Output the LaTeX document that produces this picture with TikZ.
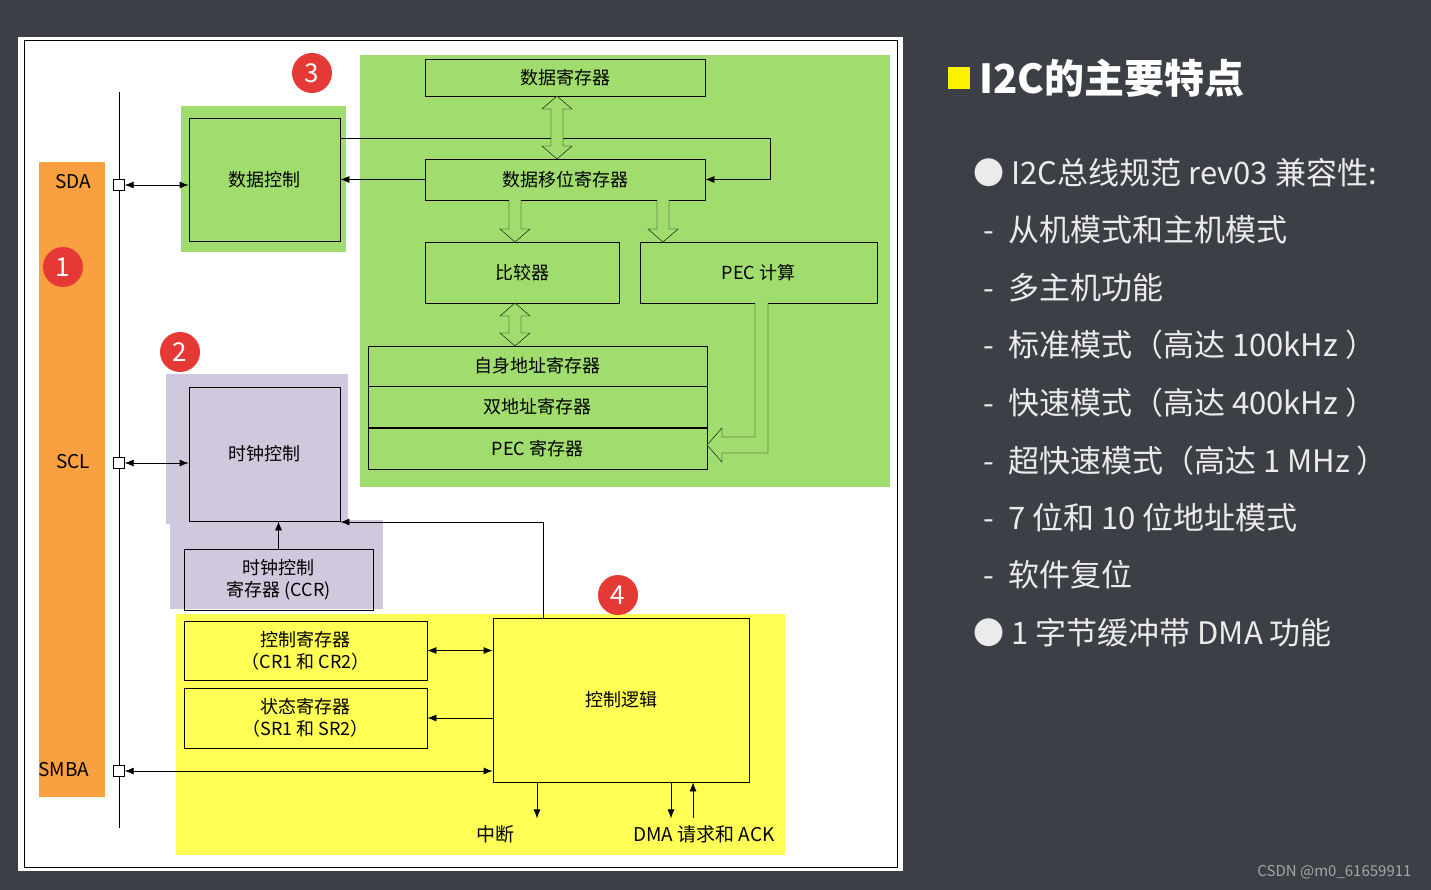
\documentclass[tikz,border=0pt]{standalone}
\usepackage{fontspec}
\setmainfont{Noto Sans CJK SC}
\usetikzlibrary{arrows.meta,positioning,calc}
\definecolor{slide}{RGB}{60,63,69}
\definecolor{busorange}{RGB}{249,160,64}
\definecolor{blockgreen}{RGB}{160,220,110}
\definecolor{blockpurple}{RGB}{208,200,220}
\definecolor{blockyellow}{RGB}{255,255,85}
\definecolor{badgered}{RGB}{229,57,53}
\definecolor{listgray}{RGB}{235,235,235}

% hollow arrows (x, y top, y bottom)
\newcommand{\hollowdown}[3]{\draw[fill=blockgreen] (#1-6,#2)--(#1-6,#3-13)--(#1-15,#3-13)--(#1,#3)--(#1+15,#3-13)--(#1+6,#3-13)--(#1+6,#2);}
\newcommand{\hollowboth}[3]{\draw[fill=blockgreen] (#1,#2)--(#1+15,#2+13)--(#1+6,#2+13)--(#1+6,#3-13)--(#1+15,#3-13)--(#1,#3)--(#1-15,#3-13)--(#1-6,#3-13)--(#1-6,#2+13)--(#1-15,#2+13)--cycle;}

\begin{document}
\begin{tikzpicture}[x=1pt, y=-1pt,
    box/.style={draw, thick, inner sep=0pt, align=center, font=\fontsize{18}{22}\selectfont},
    pin/.style={draw, fill=white, minimum size=11pt, inner sep=0pt},
    badge/.style={circle, fill=badgered, text=white, minimum size=40pt, inner sep=0pt, font=\fontsize{26}{26}\selectfont},
    sig/.style={font=\fontsize{19}{22}\selectfont},
    arrow/.style={-{Latex[length=9pt,width=7pt]}, thick},
    both/.style={{Latex[length=9pt,width=7pt]}-{Latex[length=9pt,width=7pt]}, thick},
    item/.style={anchor=west, text=listgray, font=\fontsize{31}{34}\selectfont}
]
\useasboundingbox (0,0) rectangle (1431,890);
\fill[slide] (0,0) rectangle (1431,890);
\fill[white] (18,37) rectangle (903,871);
\draw (24,40) rectangle (897,867);

% coloured areas
\fill[busorange] (39,162) rectangle (105,797);
\fill[blockgreen] (181,106) rectangle (346,252);
\fill[blockgreen] (360,55) rectangle (890,487);
\fill[blockpurple] (166,374) rectangle (348,524);
\fill[blockpurple] (170,520) rectangle (383,609);
\fill[blockyellow] (176,614) rectangle (785,855);

% bus
\draw[thick] (119,92) -- (119,828);
\node[sig] at (73,182) {SDA};
\node[sig] at (73,462) {SCL};
\node[sig] at (64,770) {SMBA};
\node[pin] (sda) at (119,185) {};
\node[pin] (scl) at (119,463) {};
\node[pin] (smba) at (119,771) {};

% blocks
\node[box, minimum width=151pt, minimum height=123pt] (datactl) at (264.5,179.5) {数据控制};
\node[box, minimum width=280pt, minimum height=37pt] (datareg) at (565,77.5) {数据寄存器};
\node[box, minimum width=280pt, minimum height=41pt] (shiftreg) at (565,179.5) {数据移位寄存器};
\node[box, minimum width=194pt, minimum height=61pt] (comp) at (522,272.5) {比较器};
\node[box, minimum width=237pt, minimum height=61pt] (pecalc) at (758.5,272.5) {PEC 计算};
\node[box, minimum width=339pt, minimum height=40pt] (ownaddr) at (537.5,366) {自身地址寄存器};
\node[box, minimum width=339pt, minimum height=41pt] (dualaddr) at (537.5,406.5) {双地址寄存器};
\node[box, minimum width=339pt, minimum height=41pt] (pecreg) at (537.5,448.5) {PEC 寄存器};
\node[box, minimum width=151pt, minimum height=134pt] (clkctl) at (264.5,454) {时钟控制};
\node[box, minimum width=189pt, minimum height=61pt] (ccr) at (278.5,579.5) {时钟控制\\寄存器 (CCR)};
\node[box, minimum width=243pt, minimum height=59pt] (cr) at (305.5,650.5) {控制寄存器\\（CR1 和 CR2）};
\node[box, minimum width=243pt, minimum height=60pt] (sr) at (305.5,718) {状态寄存器\\（SR1 和 SR2）};
\node[box, minimum width=256pt, minimum height=164pt] (logic) at (621,700) {控制逻辑};
\node[sig] (irq) at (495,834) {中断};
\node[sig] (dma) at (704,834) {DMA 请求和 ACK};

% badges
\node[badge] (b1) at (63,267) {1};
\node[badge] (b2) at (180,352) {2};
\node[badge] (b3) at (312,73) {3};
\node[badge] (b4) at (618,595) {4};

% connectors
\draw[both] (sda) -- (sda -| datactl.west);
\draw[both] (scl) -- (scl -| clkctl.west);
\draw[both] (smba) -- (smba -| logic.west);
\draw[arrow] (shiftreg.west) -- (shiftreg.west -| datactl.east);
\coordinate (loopR) at (770,138);
\draw[arrow] (datactl.east |- loopR) -- (loopR) |- (shiftreg.east);
\draw[arrow] (ccr.north) -- (ccr.north |- clkctl.south);
\coordinate (clkin) at (543,522);
\draw[arrow] (logic.north -| clkin) -- (clkin) -- (clkin -| clkctl.east);
\draw[both] (cr.east) -- (cr.east -| logic.west);
\draw[arrow] (logic.west |- sr.east) -- (sr.east);
\draw[arrow] (logic.south -| 537,0) -- ++(0,36);
\draw[arrow] (logic.south -| 671,0) -- ++(0,36);
\draw[arrow] (693,818) -- (logic.south -| 693,0);

% hollow data paths
\hollowboth{557}{96}{159}
\hollowdown{515}{200}{242}
\hollowdown{663}{200}{242}
\hollowboth{515}{303}{346}
\draw[fill=blockgreen] (755,303)--(755,437)--(722,437)--(722,428)--(707,445)--(722,462)--(722,453)--(768,453)--(768,303);

% feature list
\fill[yellow] (948,67) rectangle (970,89);
\node[anchor=west, text=white, font=\bfseries\fontsize{40}{44}\selectfont] (title) at (976,78) {I2C的主要特点};
\node[item] (l1) at (970,173) {● I2C总线规范 rev03 兼容性:};
\node[item] (l2) at (980,230) {-\ \ 从机模式和主机模式};
\node[item] (l3) at (980,288) {-\ \ 多主机功能};
\node[item] (l4) at (980,345) {-\ \ 标准模式（高达 100kHz ）};
\node[item] (l5) at (980,403) {-\ \ 快速模式（高达 400kHz ）};
\node[item] (l6) at (980,461) {-\ \ 超快速模式（高达 1 MHz ）};
\node[item] (l7) at (980,518) {-\ \ 7 位和 10 位地址模式};
\node[item] (l8) at (980,575) {-\ \ 软件复位};
\node[item] (l9) at (970,633) {● 1 字节缓冲带 DMA 功能};
\node[anchor=east, text=gray!70, font=\fontsize{15}{16}\selectfont] (csdn) at (1415,872) {CSDN @m0\_61659911};
\end{tikzpicture}
\end{document}
